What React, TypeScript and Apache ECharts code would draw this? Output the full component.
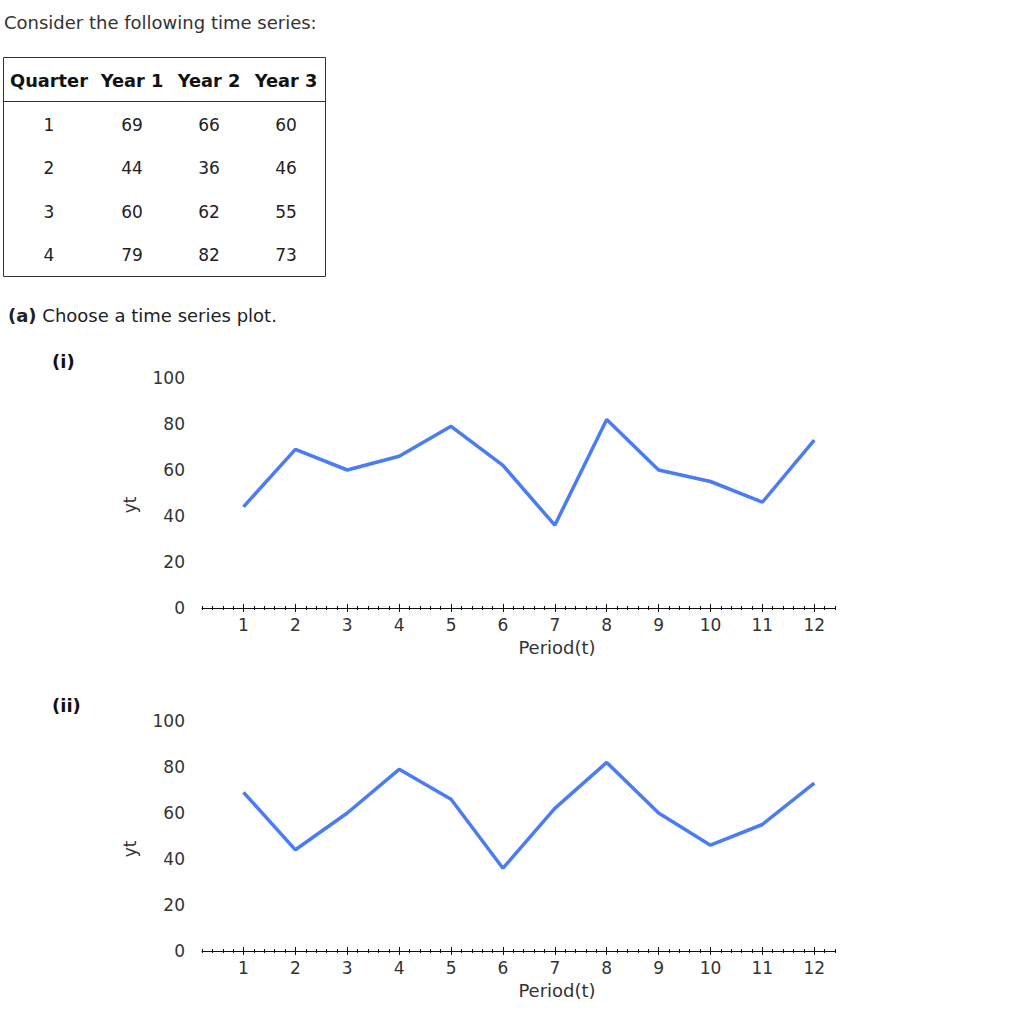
import React, { useEffect, useRef } from "react";
import * as echarts from "echarts";

const quarters = [1, 2, 3, 4];
const year1 = [69, 44, 60, 79];
const year2 = [66, 36, 62, 82];
const year3 = [60, 46, 55, 73];
const tableHeaders = ["Quarter", "Year 1", "Year 2", "Year 3"];

const periods = [1, 2, 3, 4, 5, 6, 7, 8, 9, 10, 11, 12];
const seriesI = [44, 69, 60, 66, 79, 62, 36, 82, 60, 55, 46, 73];
const seriesII = [69, 44, 60, 79, 66, 36, 62, 82, 60, 46, 55, 73];
const yTicks = [0, 20, 40, 60, 80, 100];

const FONT = "DejaVu Sans";
const TXT = "#222";
const AX = "#333";
const BLUE = "#4a7cf6";

function txt(text: string, x: number, y: number, opts: any = {}) {
  const align = opts.align || "left";
  return {
    type: "text",
    x,
    y,
    rotation: opts.rotation || 0,
    style: {
      text,
      fontFamily: opts.fontFamily || FONT,
      fontSize: opts.fontSize || 18,
      fontWeight: opts.fontWeight || "normal",
      fill: opts.fill || TXT,
      align,
      textAlign: align,
      verticalAlign: "middle",
      textVerticalAlign: "middle",
      rich: opts.rich,
    },
  };
}

function buildTable() {
  const els: any[] = [];
  els.push({
    type: "rect",
    shape: { x: 3.5, y: 57.5, width: 322, height: 219 },
    style: { fill: "none", stroke: "#333", lineWidth: 1 },
  });
  els.push({
    type: "line",
    shape: { x1: 3.5, y1: 101.5, x2: 325.5, y2: 101.5 },
    style: { stroke: "#333", lineWidth: 1 },
  });
  const colX = [49, 132, 209, 286];
  const rowY = [125, 168, 212, 255];
  tableHeaders.forEach((h, i) => {
    els.push(txt(h, colX[i], 80, { align: "center", fontWeight: "bold", fill: "#111", fontSize: 17.8 }));
  });
  quarters.forEach((q, r) => {
    const vals = [q, year1[r], year2[r], year3[r]];
    vals.forEach((v, c) => {
      els.push(txt(String(v), colX[c], rowY[r], { align: "center", fill: TXT, fontSize: 17 }));
    });
  });
  return els;
}

function xAxes(gridIndex: number) {
  const base = {
    type: "value",
    gridIndex,
    min: 0.2,
    max: 12.4,
    splitLine: { show: false },
    position: "bottom",
  };
  return [
    {
      ...base,
      axisLine: { show: true, onZero: false, lineStyle: { color: "#111", width: 1 } },
      axisTick: { show: true, length: 4, customValues: periods, lineStyle: { color: "#111" } },
      axisLabel: {
        show: true,
        customValues: periods,
        margin: 8,
        fontFamily: FONT,
        fontSize: 17,
        color: AX,
      },
    },
    {
      ...base,
      axisLine: { show: false, onZero: false },
      axisTick: { show: true, inside: true, length: 4, customValues: periods, lineStyle: { color: "#111" } },
      axisLabel: { show: false },
    },
    {
      ...base,
      interval: 0.2,
      axisLine: { show: false, onZero: false },
      axisTick: { show: true, length: 2, lineStyle: { color: "#111" } },
      axisLabel: { show: false },
    },
    {
      ...base,
      interval: 0.2,
      axisLine: { show: false, onZero: false },
      axisTick: { show: true, inside: true, length: 2, lineStyle: { color: "#111" } },
      axisLabel: { show: false },
    },
  ];
}

function yAxis(gridIndex: number) {
  return {
    type: "value",
    gridIndex,
    min: yTicks[0],
    max: yTicks[yTicks.length - 1],
    interval: 20,
    axisLine: { show: false },
    axisTick: { show: false },
    splitLine: { show: false },
    axisLabel: { margin: 17, fontFamily: FONT, fontSize: 17, color: AX },
  };
}

export default function App() {
  const ref = useRef<HTMLDivElement>(null);
  useEffect(() => {
    if (!ref.current) return;
    const chart = echarts.init(ref.current, undefined, { renderer: "svg" });
    const lineSeries = (vals: number[], xi: number, yi: number) => ({
      type: "line",
      xAxisIndex: xi,
      yAxisIndex: yi,
      data: periods.map((p, i) => [p, vals[i]]),
      symbol: "none",
      lineStyle: { color: BLUE, width: 3.5 },
      z: 5,
    });
    chart.setOption({
      animation: false,
      backgroundColor: "#fff",
      grid: [
        { left: 202, top: 378, width: 633, height: 230 },
        { left: 202, top: 721, width: 633, height: 230 },
      ],
      xAxis: [...xAxes(0), ...xAxes(1)],
      yAxis: [yAxis(0), yAxis(1)],
      series: [lineSeries(seriesI, 0, 0), lineSeries(seriesII, 4, 1)],
      graphic: [
        txt("Consider the following time series:", 4, 22, { fill: "#333" }),
        ...buildTable(),
        txt("{b|(a)} Choose a time series plot.", 8, 315, {
          fill: "#222",
          rich: { b: { fontWeight: "bold", fontFamily: FONT, fontSize: 18, fill: "#222" } },
        }),
        txt("(i)", 52, 361, { fontWeight: "bold", fill: "#111" }),
        txt("(ii)", 52, 705, { fontWeight: "bold", fill: "#111" }),
        txt("yt", 130, 505, { align: "center", rotation: Math.PI / 2, fontSize: 17, fill: AX }),
        txt("yt", 130, 849, { align: "center", rotation: Math.PI / 2, fontSize: 17, fill: AX }),
        txt("Period(t)", 557, 647, { align: "center", fontSize: 18, fill: AX }),
        txt("Period(t)", 557, 990, { align: "center", fontSize: 18, fill: AX }),
      ],
    });
    return () => chart.dispose();
  }, []);
  return (
    <div
      ref={ref}
      style={{ position: "absolute", left: 0, top: 0, width: 1024, height: 1017 }}
    />
  );
}
